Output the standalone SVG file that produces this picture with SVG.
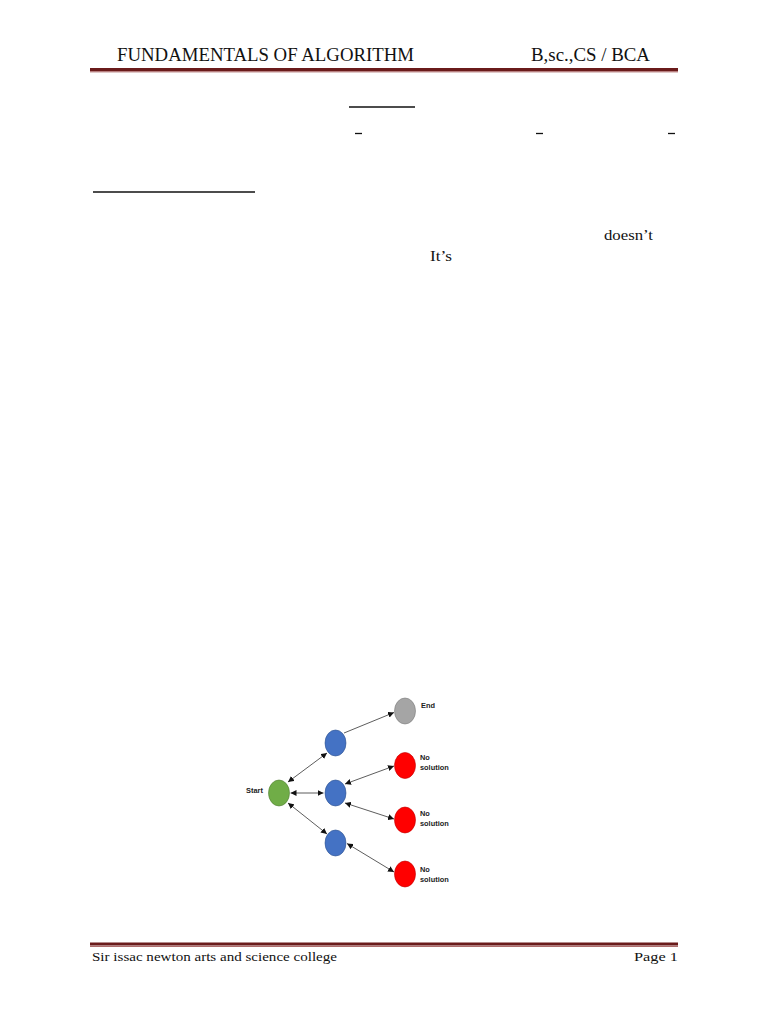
<svg xmlns="http://www.w3.org/2000/svg" width="768" height="1024" viewBox="0 0 768 1024">
<style>
.hdr{font-family:"Liberation Serif",serif;font-size:19px;fill:#111}
.ftr{font-family:"Liberation Serif",serif;font-size:13px;fill:#111}
.body{font-family:"Liberation Serif",serif;font-size:15.5px;fill:#111}
.lbl{font-family:"Liberation Sans",Arial,sans-serif;font-size:7.4px;font-weight:bold;fill:#222}
.edge{stroke:#333;stroke-width:0.8;fill:none}
.green{fill:#70ad47;stroke:#507e32;stroke-width:0.6}
.blue{fill:#4472c4;stroke:#2f528f;stroke-width:0.6}
.gray{fill:#a5a5a5;stroke:#7b7b7b;stroke-width:0.6}
.red{fill:#ff0000;stroke:#c00000;stroke-width:0.6}
.rule{stroke:#111;stroke-width:1.4}
.dash{stroke:#111;stroke-width:1.3}
</style>
<defs>
<marker id="ah" viewBox="0 0 10 10" refX="10" refY="5" markerWidth="6" markerHeight="6" markerUnits="userSpaceOnUse" orient="auto-start-reverse">
<path d="M0,0 L10,5 L0,10 z" fill="#111"/>
</marker>
</defs>
<rect width="768" height="1024" fill="#ffffff"/>
<g id="header">
<text class="hdr" x="117" y="61" textLength="297" lengthAdjust="spacingAndGlyphs">FUNDAMENTALS OF ALGORITHM</text>
<text class="hdr" x="531" y="61" textLength="119" lengthAdjust="spacingAndGlyphs">B,sc.,CS / BCA</text>
<rect x="90" y="68" width="588" height="3" fill="#6a1b1b"/>
<rect x="90" y="71.3" width="588" height="1" fill="#9a4a4a"/>
</g>
<g id="body">
<line class="rule" x1="349" y1="107" x2="415" y2="107"/>
<line class="dash" x1="355" y1="133.5" x2="362" y2="133.5"/>
<line class="dash" x1="536" y1="133.5" x2="543" y2="133.5"/>
<line class="dash" x1="668" y1="133.5" x2="675" y2="133.5"/>
<line class="rule" x1="93" y1="192" x2="255" y2="192"/>
<text class="body" x="604" y="240" textLength="49" lengthAdjust="spacingAndGlyphs">doesn’t</text>
<text class="body" x="430" y="261" textLength="22" lengthAdjust="spacingAndGlyphs">It’s</text>
</g>
<g id="connectors">
<line class="edge" x1="288" y1="782" x2="327" y2="753" marker-start="url(#ah)" marker-end="url(#ah)"/>
<line class="edge" x1="290.5" y1="793" x2="323.5" y2="793" marker-start="url(#ah)" marker-end="url(#ah)"/>
<line class="edge" x1="288" y1="803" x2="327" y2="834" marker-start="url(#ah)" marker-end="url(#ah)"/>
<line class="edge" x1="344" y1="733" x2="394" y2="712.5" marker-end="url(#ah)"/>
<line class="edge" x1="345" y1="784" x2="394" y2="766" marker-start="url(#ah)" marker-end="url(#ah)"/>
<line class="edge" x1="345" y1="803" x2="394" y2="819" marker-start="url(#ah)" marker-end="url(#ah)"/>
<line class="edge" x1="347" y1="843.5" x2="394" y2="872" marker-start="url(#ah)" marker-end="url(#ah)"/>
</g>
<g id="node-start">
<ellipse class="green" cx="279" cy="793" rx="10.5" ry="13"/>
<text class="lbl" x="246" y="793">Start</text>
</g>
<g id="node-b1"><ellipse class="blue" cx="335.5" cy="743" rx="10.5" ry="13"/></g>
<g id="node-b2"><ellipse class="blue" cx="335.5" cy="793" rx="10.5" ry="13"/></g>
<g id="node-b3"><ellipse class="blue" cx="335.5" cy="843" rx="10.5" ry="13"/></g>
<g id="node-end">
<ellipse class="gray" cx="405" cy="711" rx="10.5" ry="13"/>
<text class="lbl" x="421" y="708">End</text>
</g>
<g id="node-r1">
<ellipse class="red" cx="405" cy="765.5" rx="10.5" ry="13"/>
<text class="lbl" x="420" y="760">No</text>
<text class="lbl" x="420" y="770">solution</text>
</g>
<g id="node-r2">
<ellipse class="red" cx="405" cy="820" rx="10.5" ry="13"/>
<text class="lbl" x="420" y="816">No</text>
<text class="lbl" x="420" y="826">solution</text>
</g>
<g id="node-r3">
<ellipse class="red" cx="405" cy="874" rx="10.5" ry="13"/>
<text class="lbl" x="420" y="872">No</text>
<text class="lbl" x="420" y="882">solution</text>
</g>
<g id="footer">
<rect x="90" y="942.5" width="588" height="3" fill="#6a1b1b"/>
<rect x="90" y="945.8" width="588" height="1" fill="#9a4a4a"/>
<text class="ftr" x="92" y="961" textLength="245" lengthAdjust="spacingAndGlyphs">Sir issac newton arts and science college</text>
<text class="ftr" x="634" y="961" textLength="44" lengthAdjust="spacingAndGlyphs">Page 1</text>
</g>
</svg>
